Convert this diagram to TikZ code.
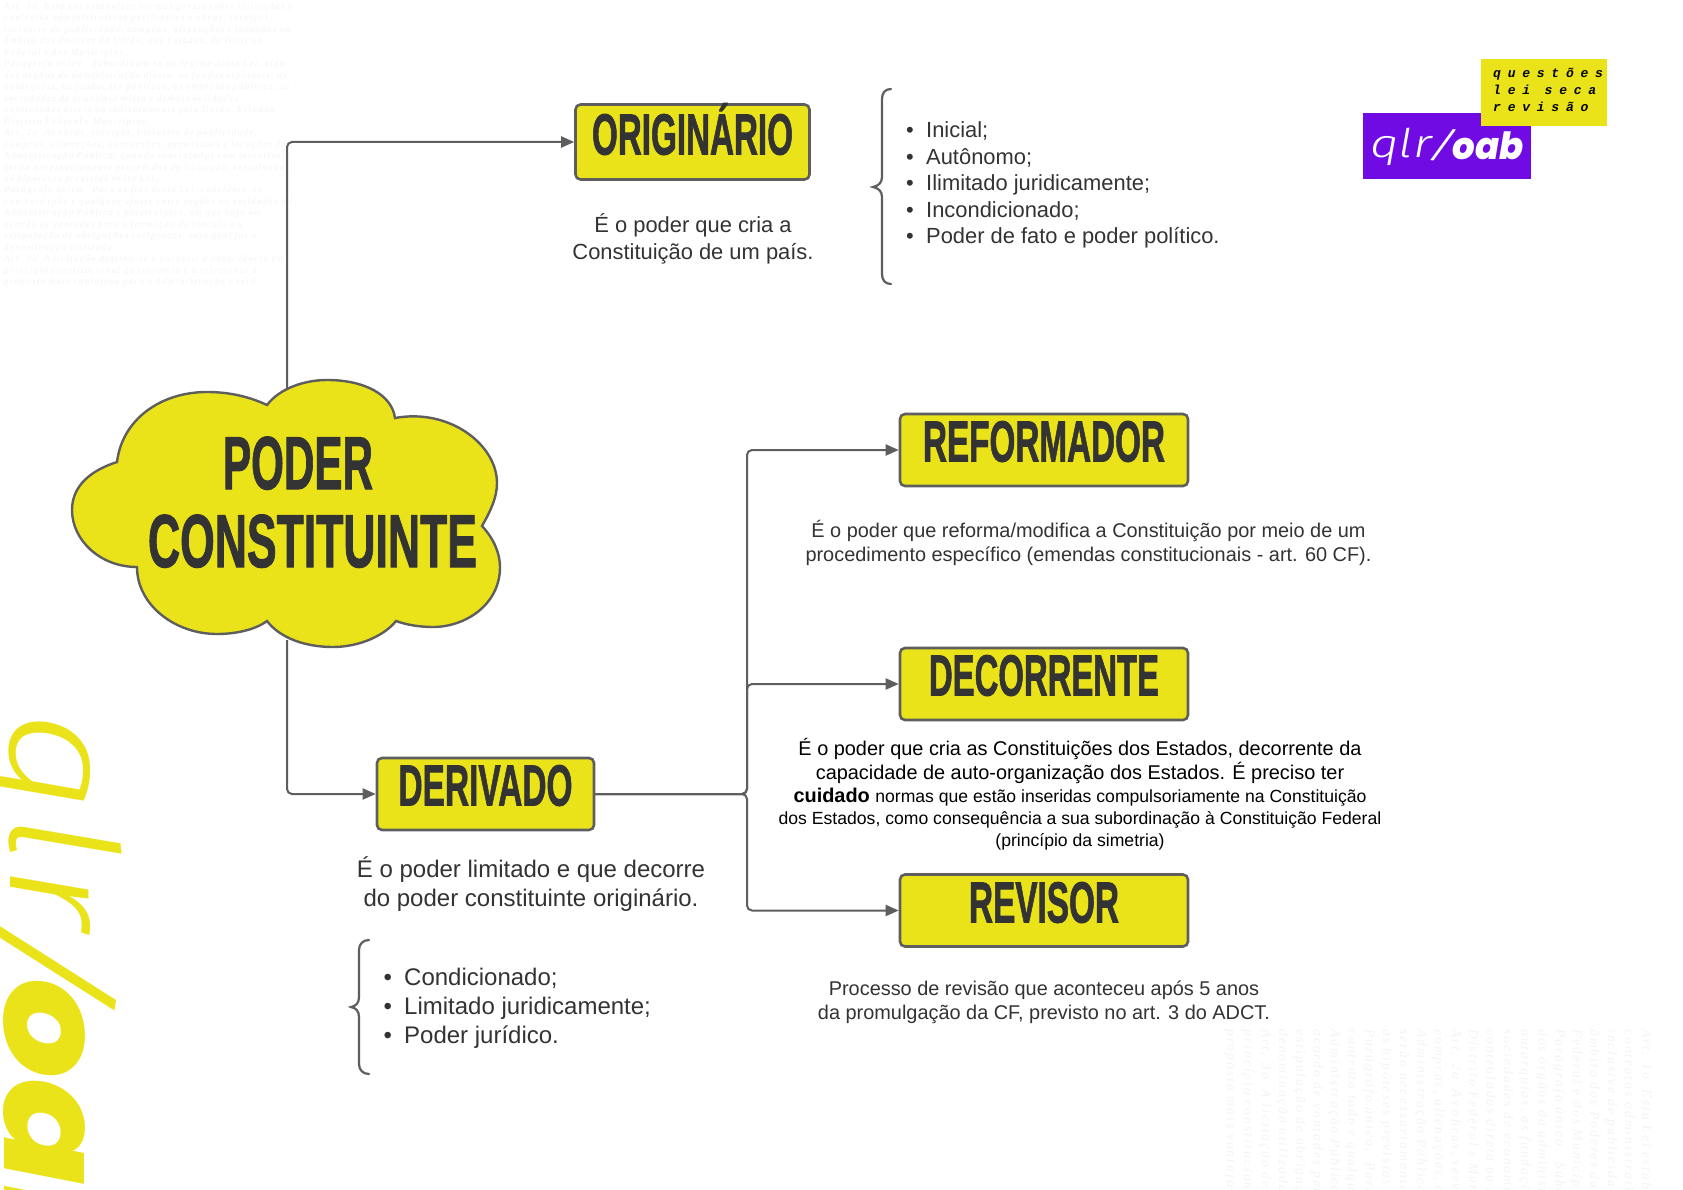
\documentclass[tikz,border=0pt]{standalone}
\usepackage{fontspec}
\usepackage{graphicx}
\usetikzlibrary{arrows.meta}
\setmainfont{Liberation Sans}
\newfontfamily\bebasfont{Liberation Sans Bold}[FakeBold=1.6]
\newfontfamily\wmfont{Liberation Serif Italic}[LetterSpace=15]
\newfontfamily\tagfont{Liberation Mono Bold Italic}[LetterSpace=52]
\newfontfamily\qlrf{Fira Sans Light Italic}
\newfontfamily\oabf{Poppins ExtraBold Italic}
\definecolor{ylw}{HTML}{EBE31A}
\definecolor{grayline}{HTML}{5E5E5E}
\definecolor{ink}{HTML}{333333}
\definecolor{wm}{HTML}{F4F4F4}
\definecolor{purp}{HTML}{700CE3}
\newcommand\bb[3]{\raisebox{#3}[0pt][0pt]{\resizebox{#1pt}{\height}{#2}}}
\newlength\lioffset
\newcommand\li[1]{\makebox[\lioffset][l]{•}#1}
% size, colour, stretch of qlr, stretch of slash, stretch of oab, kern before oab
\newcommand\qlrlogo[6]{{\fontsize{#1}{#1}\selectfont\color{#2}\qlrf\scalebox{#3}[1]{qlr}\kern-0.127em\scalebox{#4}[0.88]{/}\kern#6em\oabf\raisebox{-0.04em}{\scalebox{#5}[0.95]{oab}}}}
\newcommand\wmtext{Art. 1o\ \ Esta Lei estabelece normas gerais sobre licitações e\\
contratos administrativos pertinentes a obras, serviços,\\
inclusive de publicidade, compras, alienações e locações no\\
âmbito dos Poderes da União, dos Estados, do Distrito\\
Federal e dos Municípios.\\
Parágrafo único.\ \ Subordinam-se ao regime desta Lei, além\\
dos órgãos da administração direta, os fundos especiais, as\\
autarquias, as fundações públicas, as empresas públicas, as\\
sociedades de economia mista e demais entidades\\
controladas direta ou indiretamente pela União, Estados,\\
Distrito Federal e Municípios.\\
Art. 2o\ \ As obras, serviços, inclusive de publicidade,\\
compras, alienações, concessões, permissões e locações da\\
Administração Pública, quando contratadas com terceiros,\\
serão necessariamente precedidas de licitação, ressalvadas\\
as hipóteses previstas nesta Lei.\\
Parágrafo único.\ \ Para os fins desta Lei, considera-se\\
contrato todo e qualquer ajuste entre órgãos ou entidades da\\
Administração Pública e particulares, em que haja um\\
acordo de vontades para a formação de vínculo e a\\
estipulação de obrigações recíprocas, seja qual for a\\
denominação utilizada.\\
Art. 3o\ \ A licitação destina-se a garantir a observância do\\
princípio constitucional da isonomia e a selecionar a\\
proposta mais vantajosa para a Administração e será}
\tikzset{
  titlebox/.style={draw=grayline,fill=ylw,line width=2.6pt,rounded corners=5pt,inner sep=0pt,text=ink},
  conn/.style={draw=grayline,line width=2pt,rounded corners=5pt},
  arr/.style={-{Triangle[length=13pt,width=11pt]}},
  brace/.style={draw=grayline,line width=2.2pt,line cap=round},
  desc/.style={text=ink,align=center,inner sep=0pt},
  wmark/.style={text=wm,align=left,inner sep=0pt},
}
\begin{document}
\begin{tikzpicture}[x=1pt,y=-1pt]
\useasboundingbox (0,0) rectangle (1683,1190);
\fill[white] (0,0) rectangle (1683,1190);
\begin{scope}
\clip (0,0) rectangle (1683,1190);
% watermarks
\node[wmark,anchor=north west,font=\wmfont\fontsize{9}{11.47}\selectfont] (wma) at (4,3) {\wmtext};
\node[wmark,anchor=north west,rotate=-90,font=\wmfont\fontsize{13.6}{17.3}\selectfont] (wmb) at (1652,1029) {\wmtext};
% side logo
\node[anchor=base west,rotate=-90,inner sep=0pt] (sidelogo) at (10,711) {\qlrlogo{150}{ylw}{1.2}{1.4}{1.05}{-0.28}};
\end{scope}
% logo
\node[fill=purp,minimum width=168pt,minimum height=66pt,inner sep=0pt,anchor=north west] (plogo) at (1363,113) {};
\node[anchor=base west,inner sep=0pt] (plogotxt) at (1370,158) {\qlrlogo{39.5}{white}{1.28}{1.6}{0.9}{-0.18}};
\node[fill=ylw,minimum width=126pt,minimum height=67pt,inner sep=0pt,anchor=north west] (ylogo) at (1481,59) {};
\node[anchor=north west,align=left,inner sep=0pt,font=\tagfont\fontsize{13}{17}\selectfont,text=black] (ylogotxt) at (1493,68) {questões\\lei seca\\revisão};
% anchors
\coordinate (cloudtop) at (287,390);
\coordinate (cloudbot) at (287,640);
\coordinate (trunk) at (747,794);
% title boxes
\node[titlebox,minimum width=234pt,minimum height=75pt] (orig) at (692.5,142) {\bb{201}{\bebasfont\fontsize{58}{58}\selectfont ORIGINÁRIO}{-12.5pt}};
\node[titlebox,minimum width=288pt,minimum height=72pt] (ref) at (1044,450) {\bb{242}{\bebasfont\fontsize{58}{58}\selectfont REFORMADOR}{-11.5pt}};
\node[titlebox,minimum width=288pt,minimum height=72pt] (dec) at (1044,684) {\bb{230}{\bebasfont\fontsize{58}{58}\selectfont DECORRENTE}{-11.5pt}};
\node[titlebox,minimum width=288pt,minimum height=72pt] (rev) at (1044,910.5) {\bb{150}{\bebasfont\fontsize{58}{58}\selectfont REVISOR}{-12pt}};
\node[titlebox,minimum width=217pt,minimum height=72pt] (der) at (485.5,794) {\bb{174}{\bebasfont\fontsize{58}{58}\selectfont DERIVADO}{-11.5pt}};
% connectors
\draw[conn,arr] (cloudtop) |- (orig.west);
\draw[conn,arr] (cloudbot) |- (der.west);
\draw[conn,arr] (der.east) -- (trunk) |- (ref.west);
\draw[conn,arr] (der.east) -- (trunk) |- (dec.west);
\draw[conn,arr] (der.east) -- (trunk) |- (rev.west);
% cloud
\draw[fill=ylw,draw=grayline,line width=2.4pt,line join=miter]
 (117,462) .. controls (122,420) and (160,392) .. (207,392) .. controls (230,392) and (250,397) .. (267,405)
 .. controls (280,388) and (305,380) .. (327,380) .. controls (365,380) and (392,395) .. (395,418)
 .. controls (450,408) and (497,445) .. (497,483) .. controls (497,498) and (490,512) .. (482,526)
 .. controls (495,540) and (500,555) .. (500,567) .. controls (500,605) and (465,627) .. (433,627) .. controls (420,627) and (407,625) .. (396,621)
 .. controls (385,635) and (360,647) .. (333,647) .. controls (305,647) and (280,638) .. (267,621)
 .. controls (255,630) and (235,634) .. (217,634) .. controls (175,634) and (137,605) .. (137,567)
 .. controls (100,567) and (72,540) .. (72,510) .. controls (72,485) and (92,470) .. (117,462) -- cycle;
\node[anchor=base,inner sep=0pt,text=ink] (poder) at (298,489) {\resizebox{150pt}{\height}{\bebasfont\fontsize{75}{75}\selectfont PODER}};
\node[anchor=base,inner sep=0pt,text=ink] (const) at (312.5,567) {\resizebox{329pt}{\height}{\bebasfont\fontsize{75}{75}\selectfont CONSTITUINTE}};
% descriptions
\node[desc,font=\fontsize{21.9}{26.8}\selectfont] (dorig) at (693,238.5) {É o poder que cria a\\Constituição de um país.};
\setlength\lioffset{20pt}
\node[desc,align=left,anchor=west,font=\fontsize{21.9}{26.6}\selectfont] (lorig) at (906,185) {\li{Inicial;}\\\li{Autônomo;}\\\li{Ilimitado juridicamente;}\\\li{Incondicionado;}\\\li{Poder de fato e poder político.}};
\draw[brace] (891,89) .. controls (885,89) and (882,93) .. (882,99) -- (882,177) .. controls (882,183) and (878,186) .. (873,187) .. controls (878,188) and (882,191) .. (882,197) -- (882,274) .. controls (882,280) and (885,284) .. (891,284);
\node[desc,font=\fontsize{19.9}{24}\selectfont] (dref) at (1088.5,542.5) {É o poder que reforma/modifica a Constituição por meio de um\\procedimento específico (emendas constitucionais - art. 60 CF).};
\node[desc,text=black,font=\fontsize{19.9}{24.4}\selectfont] (ddec) at (1080,794) {É o poder que cria as Constituições dos Estados, decorrente da\\[-0.5pt]
capacidade de auto-organização dos Estados. É preciso ter\\[-1pt]
{\bfseries cuidado} {\fontsize{17.6}{22}\selectfont normas que estão inseridas compulsoriamente na Constituição}\\[-2pt]
\fontsize{17.6}{22}\selectfont dos Estados, como consequência a sua subordinação à Constituição Federal\\[-3pt]
\fontsize{17.6}{22}\selectfont (princípio da simetria)};
\node[desc,font=\fontsize{19.9}{24.5}\selectfont] (drev) at (1044,1002.5) {Processo de revisão que aconteceu após 5 anos\\da promulgação da CF, previsto no art. 3 do ADCT.};
\node[desc,font=\fontsize{24}{29}\selectfont] (dder) at (531,884) {É o poder limitado e que decorre\\do poder constituinte originário.};
\setlength\lioffset{20.5pt}
\node[desc,align=left,anchor=west,font=\fontsize{24}{29}\selectfont] (lder) at (383.5,1008) {\li{Condicionado;}\\\li{Limitado juridicamente;}\\\li{Poder jurídico.}};
\draw[brace] (369,940) .. controls (363,940) and (359,944) .. (359,950) -- (359,997) .. controls (359,1003) and (356,1006) .. (351,1007) .. controls (356,1008) and (359,1011) .. (359,1017) -- (359,1064) .. controls (359,1070) and (363,1074) .. (369,1074);
\end{tikzpicture}
\end{document}
